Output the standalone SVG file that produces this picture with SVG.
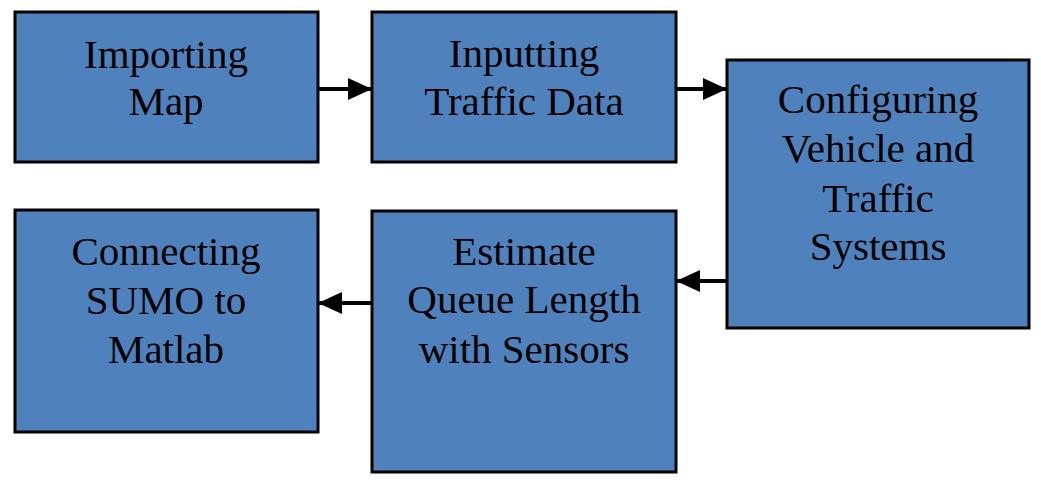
<svg xmlns="http://www.w3.org/2000/svg" width="1041" height="483" viewBox="0 0 1041 483">
<style>
.box{fill:#4F81BD;stroke:#000;stroke-width:3}
.lbl{font-family:'Liberation Serif','Times New Roman',Times,'DejaVu Serif',serif;font-size:41px;fill:#000;text-anchor:middle}
.conn{stroke:#000;stroke-width:4;fill:none}
</style>
<defs>
<marker id="ah" viewBox="0 0 24 22" refX="24" refY="11" markerWidth="24" markerHeight="22" markerUnits="userSpaceOnUse" orient="auto">
<path d="M0,0 L24,11 L0,22 Z" fill="#000"/>
</marker>
</defs>
<rect width="1041" height="483" fill="#fff"/>
<g id="connectors">
<line class="conn" x1="318" y1="89" x2="372" y2="89" marker-end="url(#ah)"/>
<line class="conn" x1="676" y1="89" x2="727" y2="89" marker-end="url(#ah)"/>
<line class="conn" x1="727" y1="281" x2="676" y2="281" marker-end="url(#ah)"/>
<line class="conn" x1="372" y1="303" x2="318" y2="303" marker-end="url(#ah)"/>
</g>
<g id="importing-map">
<rect class="box" x="15" y="12" width="303" height="150"/>
<text class="lbl" x="166" y="68">Importing</text>
<text class="lbl" x="166" y="115">Map</text>
</g>
<g id="inputting-traffic-data">
<rect class="box" x="372" y="12" width="304" height="150"/>
<text class="lbl" x="524" y="67">Inputting</text>
<text class="lbl" x="524" y="115">Traffic Data</text>
</g>
<g id="configuring">
<rect class="box" x="727" y="60" width="302" height="268"/>
<text class="lbl" x="878" y="113">Configuring</text>
<text class="lbl" x="878" y="162">Vehicle and</text>
<text class="lbl" x="878" y="212">Traffic</text>
<text class="lbl" x="878" y="260">Systems</text>
</g>
<g id="estimate-queue">
<rect class="box" x="372" y="211" width="304" height="261"/>
<text class="lbl" x="524" y="265">Estimate</text>
<text class="lbl" x="524" y="313">Queue Length</text>
<text class="lbl" x="524" y="363">with Sensors</text>
</g>
<g id="connecting-sumo">
<rect class="box" x="15" y="210" width="303" height="222"/>
<text class="lbl" x="166" y="265">Connecting</text>
<text class="lbl" x="166" y="314">SUMO to</text>
<text class="lbl" x="166" y="363">Matlab</text>
</g>
</svg>
